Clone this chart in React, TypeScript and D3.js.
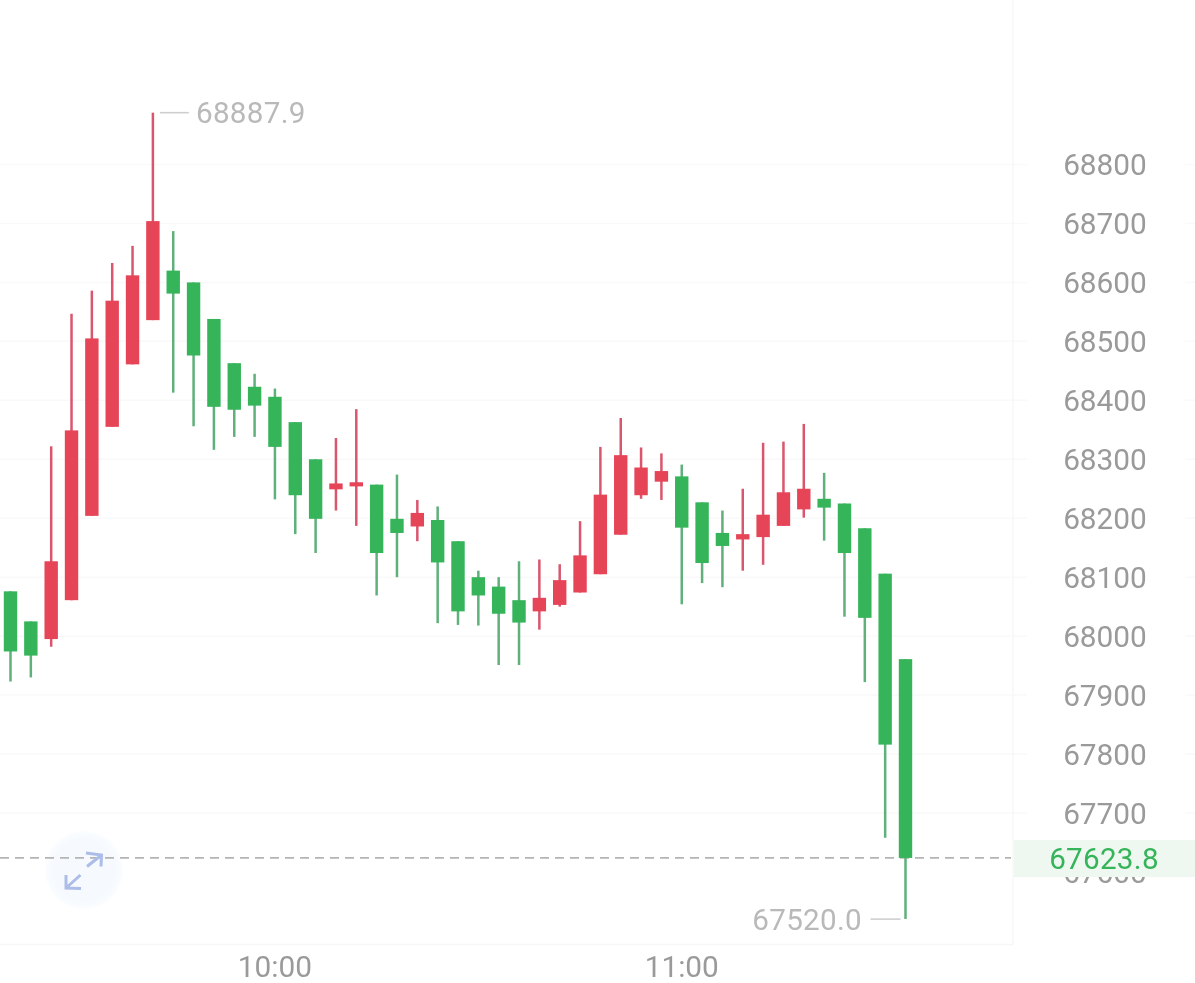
import React from "react";
import * as d3 from "d3";

const times = ["09:21","09:24","09:27","09:30","09:33","09:36","09:39","09:42","09:45","09:48","09:51","09:54","09:57","10:00","10:03","10:06","10:09","10:12","10:15","10:18","10:21","10:24","10:27","10:30","10:33","10:36","10:39","10:42","10:45","10:48","10:51","10:54","10:57","11:00","11:03","11:06","11:09","11:12","11:15","11:18","11:21","11:24","11:27","11:30","11:33"];
const opens = [68076,68025,67995,68061,68204,68355,68461,68536,68620,68600,68538,68463,68423,68406,68363,68300,68249,68254,68257,68199,68186,68197,68161,68100,68084,68061,68042,68053,68074,68105,68172,68239,68262,68271,68227,68175,68164,68168,68187,68215,68233,68225,68183,68106,67961];
const closes = [67974,67967,68127,68349,68505,68569,68612,68704,68581,68476,68389,68384,68391,68321,68239,68199,68259,68261,68141,68175,68209,68125,68042,68069,68038,68023,68065,68095,68137,68240,68307,68286,68280,68184,68124,68153,68173,68206,68244,68250,68218,68141,68031,67816,67623.8];
const highs = [68076,68025,68322,68547,68586,68633,68662,68887.9,68687,68600,68538,68463,68445,68420,68363,68300,68336,68385,68257,68274,68231,68220,68161,68111,68100,68127,68130,68122,68195,68321,68370,68320,68310,68291,68227,68213,68250,68328,68330,68360,68277,68225,68183,68106,67961];
const lows = [67923,67930,67982,68061,68204,68355,68461,68536,68413,68356,68316,68338,68338,68232,68173,68141,68213,68187,68069,68100,68161,68022,68019,68018,67951,67951,68011,68050,68074,68105,68172,68233,68231,68054,68090,68083,68111,68121,68187,68201,68162,68033,67922,67658,67520];
const priceTicks = [68800,68700,68600,68500,68400,68300,68200,68100,68000,67900,67800,67700,67600];
const gridPrices = [68800,68700,68600,68500,68400,68300,68200,68100,68000,67900,67800,67700];
const timeTicks = ["10:00","11:00"];
const lastPrice = 67623.8;
const highPrice = 68887.9;
const lowPrice = 67520;

const RED = "#E64558";
const GREEN = "#35B45A";
const RED_WICK = "#D9566E";
const GREEN_WICK = "#5FB07A";
const FONT = "Roboto, sans-serif";

const y = d3.scaleLinear().domain([68800, 67700]).range([164.5, 813]);
const x = d3.scalePoint<string>().domain(times).range([10.5, 905.5]);
const AXIS_X = 1013;
const BOTTOM = 944.5;
const BODY_W = 13.4;

export default function App() {
  const hiIdx = highs.indexOf(highPrice);
  const loIdx = lows.indexOf(lowPrice);
  return (
    <svg width={1195} height={983} style={{ position: "absolute", left: 0, top: 0, display: "block", background: "#fff" }}>
      <defs>
        <filter id="soft" x="-5%" y="-5%" width="110%" height="110%">
          <feGaussianBlur stdDeviation="0.5" />
        </filter>
        <radialGradient id="btn">
          <stop offset="0.8" stopColor="#F6FAFE" />
          <stop offset="1" stopColor="#FBFDFF" />
        </radialGradient>
      </defs>
      <g filter="url(#soft)">
        {gridPrices.map((t) => (
          <g key={t} stroke="#f9f9f9" strokeWidth={1.5}>
            <line x1={0} x2={1027} y1={y(t)} y2={y(t)} />
            <line x1={1185} x2={1195} y1={y(t)} y2={y(t)} />
          </g>
        ))}
        <line x1={0} x2={AXIS_X} y1={BOTTOM} y2={BOTTOM} stroke="#f7f7f7" strokeWidth={1.5} />
        <line x1={AXIS_X} x2={AXIS_X} y1={0} y2={BOTTOM} stroke="#f7f7f7" strokeWidth={1.5} />

        <circle cx={84} cy={870} r={39} fill="url(#btn)" />

        <line x1={0} x2={1011} y1={y(lastPrice)} y2={y(lastPrice)} stroke="#b4b4b4" strokeWidth={1.8} strokeDasharray="9 6" />

        <g fill="none" stroke="#ABBDE8" strokeWidth={3}>
          <path d="M87 866.5 L101.5 855 M86 853 L101.5 855 L101 866.5" />
          <path d="M80.5 875 L66 888 M66 875 L66 888 L81 888.5" />
        </g>

        {times.map((t, i) => {
          const up = closes[i] >= opens[i];
          const cx = x(t) as number;
          const top = y(Math.max(opens[i], closes[i]));
          const bot = y(Math.min(opens[i], closes[i]));
          return (
            <g key={t}>
              <line x1={cx} x2={cx} y1={y(highs[i])} y2={y(lows[i])} stroke={up ? RED_WICK : GREEN_WICK} strokeWidth={2.5} />
              <rect x={cx - BODY_W / 2} y={top} width={BODY_W} height={Math.max(bot - top, 1)} fill={up ? RED : GREEN} />
            </g>
          );
        })}

        <line x1={(x(times[hiIdx]) as number) + 7} x2={(x(times[hiIdx]) as number) + 36} y1={y(highPrice)} y2={y(highPrice)} stroke="#cfcfcf" strokeWidth={1.6} />
        <text x={196} y={y(highPrice)} dy="0.36em" fontFamily={FONT} fontSize={29.6} fill="#b9b9b9" letterSpacing={0.3}>{highPrice.toFixed(1)}</text>

        <line x1={(x(times[loIdx]) as number) - 35} x2={(x(times[loIdx]) as number) - 5} y1={y(lowPrice)} y2={y(lowPrice)} stroke="#cfcfcf" strokeWidth={1.6} />
        <text x={862} y={y(lowPrice)} dy="0.36em" textAnchor="end" fontFamily={FONT} fontSize={29.6} fill="#b9b9b9" letterSpacing={0.3}>{lowPrice.toFixed(1)}</text>

        {priceTicks.map((t) => (
          <text key={t} x={1105} y={y(t)} dy="0.36em" textAnchor="middle" fontFamily={FONT} fontSize={29.8} fill="#9a9a9a">{t}</text>
        ))}

        <rect x={1014} y={840} width={181} height={37} fill="#EEF8F1" />
        <text x={1104} y={y(lastPrice)} dy="0.36em" textAnchor="middle" fontFamily={FONT} fontSize={29.6} fill={GREEN} letterSpacing={0.3}>{lastPrice.toFixed(1)}</text>

        {timeTicks.map((t) => (
          <text key={t} x={x(t) as number} y={966} dy="0.36em" textAnchor="middle" fontFamily={FONT} fontSize={29.8} fill="#9a9a9a">{t}</text>
        ))}
      </g>
    </svg>
  );
}
